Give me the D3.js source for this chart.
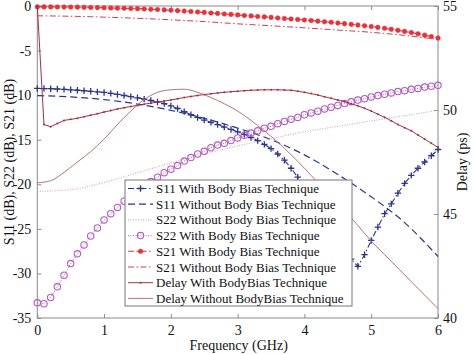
<!DOCTYPE html>
<html>
<head>
<meta charset="utf-8">
<script src="https://cdn.jsdelivr.net/npm/d3@7/dist/d3.min.js"></script>
<style>
  body { margin: 0; background: #fff; }
</style>
</head>
<body>
<svg id="chart" width="474" height="354"></svg>
<script>
// frequency grid of the marked curves (GHz)
var freqFine = [0,0.1,0.2,0.3,0.4,0.5,0.6,0.7,0.8,0.9,1,1.1,1.2,1.3,1.4,1.5,1.6,1.7,1.8,1.9,2,
  2.1,2.2,2.3,2.4,2.5,2.6,2.7,2.8,2.9,3,3.1,3.2,3.3,3.4,3.5,3.6,3.7,3.8,3.9,4,
  4.1,4.2,4.3,4.4,4.5,4.6,4.7,4.8,4.9,5,5.1,5.2,5.3,5.4,5.5,5.6,5.7,5.8,5.9,6];
var freqHalf = [0,0.5,1,1.5,2,2.5,3,3.5,4,4.5,5,5.5,6];
var freqFifth = [0,0.2,0.4,0.6,0.8,1,1.2,1.4,1.6,1.8,2,2.2,2.4,2.6,2.8,3,3.2,3.4,3.6,3.8,4,
  4.2,4.4,4.6,4.8,5,5.2,5.4,5.6,5.8,6];

// dB curves
var s11With = [-9.25,-9.26,-9.28,-9.31,-9.35,-9.4,-9.45,-9.51,-9.57,-9.63,-9.7,-9.8,-9.92,-10.04,-10.17,
  -10.3,-10.45,-10.6,-10.77,-10.95,-11.2,-11.5,-11.85,-12.2,-12.5,-12.8,-13.05,-13.3,-13.58,-13.85,
  -14.12,-14.4,-14.75,-15.1,-15.52,-16,-16.6,-17.3,-18.2,-19.2,-20.3,-21.4,-22.5,-23.6,-24.8,
  -26,-27.2,-28.4,-29.2,-27.9,-26.3,-24.8,-23.3,-22.2,-21,-19.9,-19,-18.2,-17.5,-16.8,-16.1];
var s11Without = [-10.05,-10.2,-10.5,-11,-11.7,-12.6,-13.7,-15,-16.7,-18.9,-21.4,-24.3,-28.1];
var s22Without = [-20.8,-20.6,-19.8,-18.7,-17.6,-16.6,-15.7,-14.9,-14.1,-13.5,-12.9,-12.3,-11.7];
var s22With = [-33.3,-33.4,-32.7,-31.5,-30.2,-28.9,-27.8,-26.8,-25.8,-24.9,-24,-23.3,-22.6,-21.9,-21.3,
  -20.7,-20.2,-19.7,-19.2,-18.7,-18.3,-17.9,-17.4,-17,-16.6,-16.3,-15.9,-15.6,-15.4,-15.1,
  -14.8,-14.5,-14.25,-14,-13.7,-13.5,-13.2,-12.95,-12.7,-12.5,-12.2,-12,-11.8,-11.55,-11.35,
  -11.15,-10.95,-10.75,-10.55,-10.4,-10.2,-10.05,-9.9,-9.75,-9.6,-9.5,-9.35,-9.25,-9.1,-9,-8.9];
var s21With = [-0.1,-0.1,-0.1,-0.11,-0.11,-0.12,-0.13,-0.15,-0.16,-0.18,-0.2,-0.22,-0.24,-0.26,-0.28,
  -0.3,-0.33,-0.37,-0.4,-0.44,-0.48,-0.52,-0.57,-0.62,-0.67,-0.72,-0.78,-0.83,-0.89,-0.94,
  -1,-1.06,-1.11,-1.17,-1.22,-1.28,-1.34,-1.4,-1.45,-1.51,-1.57,-1.63,-1.7,-1.76,-1.83,
  -1.9,-1.98,-2.06,-2.14,-2.22,-2.3,-2.4,-2.5,-2.61,-2.73,-2.85,-2.98,-3.12,-3.27,-3.43,-3.6];
var s21Without = [-1.1,-1.15,-1.25,-1.38,-1.55,-1.75,-2,-2.22,-2.45,-2.7,-2.95,-3.3,-3.75];

// delay curves (ps, right axis)
var delayWith = [55,49.3,49.2,49.35,49.5,49.55,49.6,49.68,49.75,49.82,49.9,49.97,50.05,50.11,50.17,
  50.22,50.28,50.33,50.38,50.43,50.48,50.54,50.6,50.65,50.7,50.74,50.78,50.82,50.85,50.88,
  50.9,50.93,50.95,50.96,50.97,50.97,50.97,50.96,50.95,50.9,50.85,50.79,50.72,50.64,50.56,
  50.48,50.4,50.3,50.2,50.08,49.95,49.8,49.65,49.48,49.3,49.15,49,48.8,48.6,48.4,48.2];
var delayWithout = [46.5,46.6,47,47.5,48,48.6,49.3,49.95,50.5,50.85,50.97,51,50.85,50.6,50.3,
  49.95,49.5,49,48.45,47.85,47.2,46.5,45.8,45.15,44.45,43.7,43.05,42.4,41.75,41.1,40.45];

var freqTicks = [0,1,2,3,4,5,6];
var dbTicks = [0,-5,-10,-15,-20,-25,-30,-35];
var delayTicks = [40,45,50,55];

var FONT = "'Liberation Serif', 'Times New Roman', serif";
var svg = d3.select("#chart").attr("font-family", FONT);
var plotL = 37.3, plotR = 438, plotT = 6, plotB = 318;

var x = d3.scaleLinear().domain([0, 6]).range([plotL, plotR]);
var yL = d3.scaleLinear().domain([-35, 0]).range([plotB, plotT]);
var yR = d3.scaleLinear().domain([40, 55]).range([plotB, plotT]);

var frameColor = "#8a8a8a";

// axes, ticks pointing inward
var gx = svg.append("g").attr("transform", "translate(0," + plotB + ")")
    .call(d3.axisBottom(x).tickValues(freqTicks).tickFormat(d3.format("d")).tickSizeInner(-4).tickSizeOuter(0).tickPadding(7));
var gxTop = svg.append("g").attr("transform", "translate(0," + plotT + ")")
    .call(d3.axisTop(x).tickValues(freqTicks).tickFormat("").tickSizeInner(-4).tickSizeOuter(0));
var gl = svg.append("g").attr("transform", "translate(" + plotL + ",0)")
    .call(d3.axisLeft(yL).tickValues(dbTicks).tickFormat(d3.format("d")).tickSizeInner(-4).tickSizeOuter(0).tickPadding(6));
var gr = svg.append("g").attr("transform", "translate(" + plotR + ",0)")
    .call(d3.axisRight(yR).tickValues(delayTicks).tickSizeInner(-4).tickSizeOuter(0).tickPadding(5));

[gx, gxTop, gl, gr].forEach(function(g) {
    g.attr("font-family", FONT).attr("font-size", 14);
    g.select(".domain").remove();
    g.selectAll(".tick line").attr("stroke", frameColor);
    g.selectAll(".tick text").attr("fill", "#111");
});
// plain hyphen minus, as in the original figure
gl.selectAll(".tick text").text(function(d) { return String(d); });

svg.append("rect")
    .attr("x", plotL).attr("y", plotT)
    .attr("width", plotR - plotL).attr("height", plotB - plotT)
    .attr("fill", "none").attr("stroke", frameColor).attr("stroke-width", 1);

// axis titles
svg.append("text")
    .attr("x", (plotL + plotR) / 2 + 1).attr("y", 350)
    .attr("text-anchor", "middle")
    .attr("font-size", 14)
    .attr("fill", "#111")
    .text("Frequency (GHz)");
svg.append("text")
    .attr("transform", "translate(14," + ((plotT + plotB) / 2) + ") rotate(-90)")
    .attr("text-anchor", "middle")
    .attr("font-size", 14)
    .attr("fill", "#111")
    .text("S11 (dB), S22 (dB), S21 (dB)");
svg.append("text")
    .attr("transform", "translate(467," + ((plotT + plotB) / 2) + ") rotate(-90)")
    .attr("text-anchor", "middle")
    .attr("font-size", 14)
    .attr("fill", "#111")
    .text("Delay (ps)");

// series definitions
var series = [
    { name: "S11 With Body Bias Technique", f: freqFine, v: s11With, axis: yL, color: "#2b3590", dash: "6,2.5,1.5,2.5", width: 1.1, marker: "plus" },
    { name: "S11 Without Body Bias Technique", f: freqHalf, v: s11Without, axis: yL, color: "#2b3590", dash: "7,4", width: 1.2 },
    { name: "S22 Without Body Bias Technique", f: freqHalf, v: s22Without, axis: yL, color: "#d9a3bf", dash: "1,1.5", width: 1.1 },
    { name: "S22 With Body Bias Technique", f: freqFine, v: s22With, axis: yL, color: "#b35cbf", dash: "1,1.5", width: 1, marker: "circle" },
    { name: "S21 With Body Bias Technique", f: freqFine, v: s21With, axis: yL, color: "#e5323b", dash: "6,2.5,1.5,2.5", width: 1.1, marker: "dot" },
    { name: "S21 Without Body Bias Technique", f: freqHalf, v: s21Without, axis: yL, color: "#d0404e", dash: "6,2.5,1.5,2.5", width: 1 },
    { name: "Delay With BodyBias Technique", f: freqFine, v: delayWith, axis: yR, color: "#a3303f", dash: null, width: 1, marker: "small" },
    { name: "Delay Without BodyBias Technique", f: freqFifth, v: delayWithout, axis: yR, color: "#b0606f", dash: null, width: 0.9 }
];

var plot = svg.append("g").attr("class", "series");

function drawMarker(g, type, color) {
    if (type === "plus") {
        g.append("path").attr("d", "M-3.2,0H3.2M0,-3.2V3.2")
            .attr("stroke", color).attr("stroke-width", 1.3).attr("fill", "none");
    } else if (type === "circle") {
        g.append("circle").attr("r", 3.2)
            .attr("fill", "none").attr("stroke", color).attr("stroke-width", 1.1);
    } else if (type === "dot") {
        g.append("circle").attr("r", 2.3).attr("fill", color).attr("stroke", color).attr("stroke-width", 0.5);
    } else if (type === "small") {
        g.append("circle").attr("r", 1).attr("fill", color);
    }
}

series.forEach(function(s) {
    var pts = s.f.map(function(f, i) { return [f, s.v[i]]; });
    var line = d3.line()
        .x(function(d) { return x(d[0]); })
        .y(function(d) { return s.axis(d[1]); })
        .curve(s.f === freqFine ? d3.curveLinear : d3.curveMonotoneX);
    plot.append("path")
        .datum(pts)
        .attr("d", line)
        .attr("fill", "none")
        .attr("stroke", s.color)
        .attr("stroke-width", s.width)
        .attr("stroke-dasharray", s.dash);
    if (s.marker) {
        plot.append("g").selectAll("g")
            .data(pts)
            .enter().append("g")
            .attr("transform", function(d) { return "translate(" + x(d[0]) + "," + s.axis(d[1]) + ")"; })
            .each(function() { drawMarker(d3.select(this), s.marker, s.color); });
    }
});

// legend
var legX = 125, legY = 180, legW = 227, legH = 126, rowH = 15.7;
var legend = svg.append("g").attr("class", "legend");
legend.append("rect")
    .attr("x", legX).attr("y", legY).attr("width", legW).attr("height", legH)
    .attr("fill", "#fff").attr("stroke", "#777").attr("stroke-width", 1);

var rows = legend.selectAll("g.row")
    .data(series)
    .enter().append("g")
    .attr("class", "row")
    .attr("transform", function(d, i) { return "translate(" + legX + "," + (legY + 8.5 + i * rowH) + ")"; });

rows.append("line")
    .attr("x1", 3).attr("x2", 28)
    .attr("stroke", function(d) { return d.color; })
    .attr("stroke-width", function(d) { return d.width; })
    .attr("stroke-dasharray", function(d) { return d.dash; });
rows.each(function(d) {
    if (d.marker) {
        var m = d3.select(this).append("g").attr("transform", "translate(15.5,0)");
        drawMarker(m, d.marker, d.color);
    }
});
rows.append("text")
    .attr("x", 31)
    .attr("dy", "0.35em")
    .attr("fill", "#111")
    .attr("font-size", 13)
    .text(function(d) { return d.name; });
</script>
</body>
</html>
